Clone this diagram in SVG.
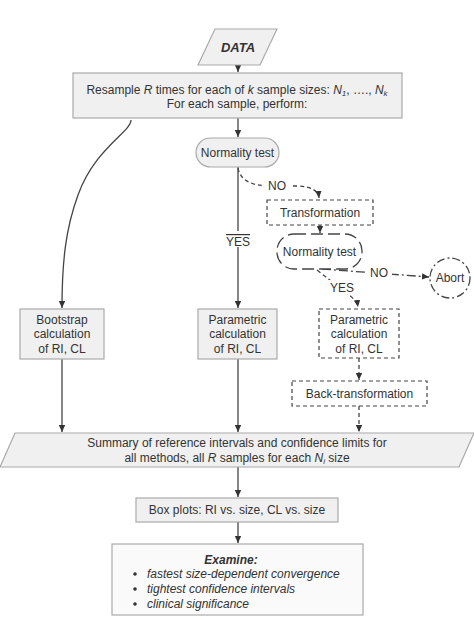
<svg xmlns="http://www.w3.org/2000/svg" width="474" height="620" viewBox="0 0 474 620">
<style>
text{font-family:"Liberation Sans",Arial,sans-serif;font-size:12px;fill:#333;}
.c{text-anchor:middle;}
.box{fill:#f0f0f0;stroke:#aaa;stroke-width:1.2;}
.dbox{fill:#fff;stroke:#444;stroke-width:1.2;stroke-dasharray:4,3;}
.ln{fill:none;stroke:#444;stroke-width:1.3;}
.dl{fill:none;stroke:#444;stroke-width:1.3;stroke-dasharray:4,3;}
.dd{fill:none;stroke:#444;stroke-width:1.3;stroke-dasharray:9,3,2,3;}
.bg{fill:#fff;}
</style>
<defs>
<marker id="ah" markerWidth="8" markerHeight="8" refX="7" refY="4" orient="auto" markerUnits="userSpaceOnUse">
<path d="M0,0.8 L7,4 L0,7.2 Z" fill="#333"/>
</marker>
</defs>

<g id="connectors">
<path class="ln" d="M238,65 L238,72" marker-end="url(#ah)"/>
<path class="ln" d="M238,118 L238,137" marker-end="url(#ah)"/>
<path class="ln" d="M131,120 C131,132 95,148 78,195 C66,228 62,260 62,308" marker-end="url(#ah)"/>
<path class="ln" d="M238,167 L238,308" marker-end="url(#ah)"/>
<path class="dl" d="M238,168 Q241,185 268,186 L298,186 Q318,187 319,198" marker-end="url(#ah)"/>
<path class="dl" d="M320,225 L320,233" marker-end="url(#ah)"/>
<path class="dd" d="M322,269 L429,277" marker-end="url(#ah)"/>
<path class="dl" d="M317,270 Q335,284 345,292 Q357,300 358,307" marker-end="url(#ah)"/>
<path class="dl" d="M359,358 L359,380" marker-end="url(#ah)"/>
<path class="ln" d="M62,359 L62,432" marker-end="url(#ah)"/>
<path class="ln" d="M238,359 L238,432" marker-end="url(#ah)"/>
<path class="dl" d="M359,406 L359,432" marker-end="url(#ah)"/>
<path class="ln" d="M238,467 L238,497" marker-end="url(#ah)"/>
<path class="ln" d="M238,522 L238,543" marker-end="url(#ah)"/>
<rect class="bg" x="263" y="178" width="28" height="15"/>
<text class="c" x="277" y="190">NO</text>
<rect class="bg" x="226" y="231" width="24" height="16"/>
<text class="c" x="238" y="246" text-decoration="overline">YES</text>
<rect class="bg" x="366" y="265" width="26" height="15"/>
<text class="c" x="379" y="277">NO</text>
<rect class="bg" x="329" y="280" width="26" height="14"/>
<text class="c" x="342" y="292">YES</text>
</g>

<g id="data">
<polygon class="box" points="215,29 277,29 260,65 198,65"/>
<text class="c" x="238" y="52" style="font-weight:bold;font-style:italic;font-size:13px">DATA</text>
</g>

<g id="resample">
<rect class="box" x="73" y="73" width="329" height="45"/>
<text class="c" x="237" y="94">Resample <tspan font-style="italic">R</tspan> times for each of <tspan font-style="italic">k</tspan> sample sizes: <tspan font-style="italic">N</tspan><tspan font-style="italic" font-size="8" dy="2">1</tspan><tspan dy="-2">, …., </tspan><tspan font-style="italic">N</tspan><tspan font-style="italic" font-size="8" dy="2">k</tspan></text>
<text class="c" x="237" y="108">For each sample, perform:</text>
</g>

<g id="normality1">
<rect class="box" x="196" y="138" width="83" height="29" rx="14.5"/>
<text class="c" x="237.5" y="156.5">Normality test</text>
</g>

<g id="transformation">
<rect class="dbox" x="267" y="200" width="106" height="25"/>
<text class="c" x="320" y="217">Transformation</text>
</g>

<g id="normality2">
<rect x="277" y="234" width="85" height="35" rx="17" fill="#fff" stroke="#444" stroke-width="1.3" stroke-dasharray="12,5"/>
<text class="c" x="319.5" y="256">Normality test</text>
</g>

<g id="abort">
<circle cx="450" cy="278" r="20" fill="#fff" stroke="#444" stroke-width="1.3" stroke-dasharray="8,3,2,3"/>
<text class="c" x="450" y="282">Abort</text>
</g>

<g id="bootstrap">
<rect class="box" x="20" y="309" width="84" height="50"/>
<text class="c" x="62" y="324">Bootstrap</text>
<text class="c" x="62" y="338">calculation</text>
<text class="c" x="62" y="353">of RI, CL</text>
</g>

<g id="parametric1">
<rect class="box" x="198" y="309" width="79" height="50"/>
<text class="c" x="237.5" y="324">Parametric</text>
<text class="c" x="237.5" y="338">calculation</text>
<text class="c" x="237.5" y="353">of RI, CL</text>
</g>

<g id="parametric2">
<rect class="dbox" x="319" y="309" width="80" height="49"/>
<text class="c" x="359" y="324">Parametric</text>
<text class="c" x="359" y="338">calculation</text>
<text class="c" x="359" y="353">of RI, CL</text>
</g>

<g id="backtransformation">
<rect class="dbox" x="292" y="381" width="135" height="25"/>
<text class="c" x="359.5" y="397.5">Back-transformation</text>
</g>

<g id="summary">
<polygon class="box" points="15,433 474,433 459,467 0,467"/>
<text class="c" x="237" y="447">Summary of reference intervals and confidence limits for</text>
<text class="c" x="237" y="462">all methods, all <tspan font-style="italic">R</tspan> samples for each <tspan font-style="italic">N</tspan><tspan font-style="italic" font-size="8" dy="2">i</tspan><tspan dy="-2"> size</tspan></text>
</g>

<g id="boxplots">
<rect class="box" x="136" y="498" width="202" height="24"/>
<text class="c" x="237" y="514">Box plots: RI vs. size, CL vs. size</text>
</g>

<g id="examine">
<rect x="112" y="544" width="251" height="71" fill="#fafafa" stroke="#aaa" stroke-width="1.2"/>
<text class="c" x="231" y="564" style="font-weight:bold;font-style:italic">Examine:</text>
<circle cx="135" cy="574" r="1.8" fill="#333"/>
<circle cx="135" cy="589" r="1.8" fill="#333"/>
<circle cx="135" cy="604" r="1.8" fill="#333"/>
<text x="147" y="578" font-style="italic">fastest size-dependent convergence</text>
<text x="147" y="593" font-style="italic">tightest confidence intervals</text>
<text x="147" y="608" font-style="italic">clinical significance</text>
</g>
</svg>
